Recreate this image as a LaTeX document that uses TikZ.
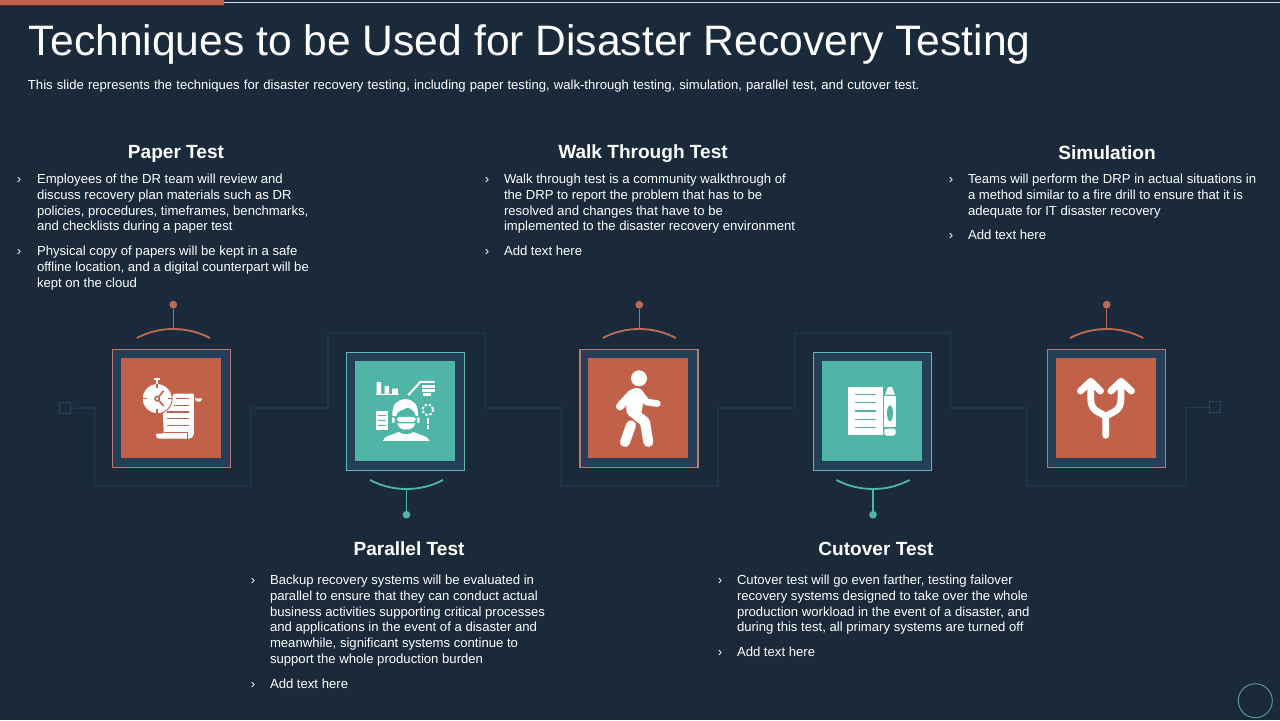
\documentclass[tikz,border=0pt]{standalone}
\usepackage{fontspec}
\setmainfont{Liberation Sans}
\newfontfamily\subfont[WordSpace=1.15]{Liberation Sans}
\usetikzlibrary{positioning,calc}
\definecolor{bgColor}{HTML}{1A2A3B}
\definecolor{wireColor}{HTML}{2A4560}
\definecolor{frameColor}{HTML}{263F58}
\definecolor{redColor}{HTML}{C1614A}
\definecolor{redEdge}{HTML}{B87A70}
\definecolor{redArc}{HTML}{BB6A55}
\definecolor{tealColor}{HTML}{4FB5A6}
\definecolor{tealEdge}{HTML}{62B5B8}
\tikzset{
	headtext/.style={text=white,inner sep=0,outer sep=0,anchor=base,font=\fontsize{10.85}{13}\selectfont\bfseries},
	bodytext/.style={text=white,inner sep=0,outer sep=0,anchor=north west,yshift=-0.4pt,font=\fontsize{7.47}{9.07}\selectfont},
	bulmark/.style={text=white,inner sep=0,outer sep=0,yshift=-0.5pt,font=\fontsize{7.5}{9.07}\selectfont},
	wire/.style={draw=wireColor,line width=0.5pt},
	endsq/.style={draw=wireColor,line width=0.5pt,minimum size=6.4pt,inner sep=0},
	framebox/.style={rectangle,fill=frameColor,draw=#1,line width=0.8pt,minimum size=2.36cm,inner sep=0,outer sep=0},
	iconbox/.style={rectangle,fill=#1,minimum size=2cm,inner sep=0,outer sep=0},
	tipdot/.style={circle,fill=#1,minimum size=4.4pt,inner sep=0,outer sep=0},
	tipline/.style={draw=#1,line width=0.7pt},
	tiparc/.style={draw=#1,line width=1.05pt},
	clockscroll/.pic={
		\fill[white,rounded corners=0.6pt] (2.3,-14.7) -- (22.3,-14.7) -- (22.3,27) -- (19,30.3) -- (-14.3,30.3) -- (-16,25.3) -- (-7.7,25.3) -- (-8.7,3.7) -- cycle;
		\fill[white] (23.4,-10) arc (180:0:3.6) -- cycle;
		\draw[redColor,line width=0.6pt] (-7.7,24) -- (15.7,24) -- (15.7,30.3);
		\foreach \yy/\xx in {-9.7/4,-3/2,3.7/-5,10.3/-5,17/-5}
			\draw[redColor,line width=0.9pt] (\xx,\yy) -- (17.3,\yy);
		\fill[white,draw=redColor,line width=0.5pt] (-14.3,-9.7) circle (15);
		\fill[white] (-17.7,-30.5) rectangle (-11.5,-28.3);
		\fill[white] (-15.3,-29) rectangle (-13.3,-24);
		\draw[redColor,line width=0.9pt] (-14.3,-24.5) -- (-14.3,-20) (-14.3,0.6) -- (-14.3,5) (-29.3,-9.7) -- (-24.6,-9.7) (-4,-9.7) -- (0.7,-9.7);
		\draw[redColor,line width=0.9pt] (-14.3,-9.7) circle (2.2) (-12.8,-11.4) -- (-8,-17.5) (-12.8,-8) -- (-8,-2.5);
	},
	maskperson/.pic={
		\fill[white] (-29,-29.7) rectangle (-24.3,-17.3) (-21,-25.7) rectangle (-16.7,-17.3) (-13.3,-23) rectangle (-7.7,-17.3);
		\fill[white] (-29.3,-18) rectangle (-6.7,-16.6);
		\draw[white,line width=1.2pt] (2.7,-16.3) -- (15,-29.7) -- (29,-29.7);
		\draw[white,line width=1.3pt] (16.7,-25) -- (29,-25) (16.7,-21) -- (29,-21) (17.3,-17) -- (25,-17);
		\fill[white] (-30,-0.7) rectangle (-17.3,18.3);
		\foreach \yy in {3.7,8.7,13.7}
			\draw[tealColor,line width=0.8pt] (-27.5,\yy) -- (-19.8,\yy);
		\fill[white] (-13,4.5) .. controls (-14,-7) and (-8,-12.3) .. (0,-12.3) .. controls (8,-12.3) and (13,-7) .. (12.5,4.5) -- (10.5,4.5) .. controls (9,0) and (6,-3) .. (2,-4) .. controls (-2,-1) and (-8,-2) .. (-9.5,4.5) -- cycle;
		\fill[white] (-13.5,6) rectangle (-11,11) (11.5,6) rectangle (14,11);
		\fill[white,rounded corners=1pt] (-8.3,5.3) rectangle (10,10.3);
		\fill[white] (-8.3,11.8) -- (10,11.8) .. controls (8,17.5) and (4,18) .. (0.8,18) .. controls (-3,18) and (-6.5,17.5) .. (-8.3,11.8) -- cycle;
		\fill[white] (-22.7,29.3) .. controls (-21,24) and (-13,23.5) .. (-7,20.5) .. controls (-3,23.5) and (4,23.5) .. (8,20.5) .. controls (14,23.5) and (22,24) .. (24,29.3) -- cycle;
		\draw[white,line width=1.2pt,dash pattern=on 1.3pt off 1.2pt] (22.3,-1.7) circle (5.5);
		\draw[white,line width=1.1pt,dash pattern=on 3.5pt off 0.9pt] (22.3,6) -- (22.3,17);
	},
	walkman/.pic={
		\fill[white] (0,-30) circle (8);
		\draw[white,line width=4.6pt,line cap=round,line join=round] (-7.3,-14.7) -- (-19,-2);
		\draw[white,line width=3.8pt,line cap=round,line join=round] (1,-14.7) -- (7.7,-6.3) -- (18.3,-4.7);
		\draw[white,line width=9pt,line cap=round,line join=round] (-2.5,-12.5) -- (-5,1);
		\draw[white,line width=5.7pt,line cap=round,line join=round] (-6.3,3.7) -- (6,13.7) -- (9.3,33.7);
		\draw[white,line width=5.7pt,line cap=round,line join=round] (-8,17) -- (-14,33.7);
	},
	notecrayon/.pic={
		\fill[white] (-24.5,-24.5) rectangle (10.2,23.5);
		\foreach \yy in {-17.2,-8.8,-0.5,7.8,16.2}
			\draw[tealColor,line width=0.9pt] (-17.5,\yy) -- (3.2,\yy);
		\fill[white] (12.5,-16.8) -- (15.5,-24.5) -- (19.5,-24.5) -- (22.5,-16.8) -- cycle;
		\fill[white] (11.8,-15.6) -- (23.2,-15.6) -- (23.2,15.5) -- (11.8,15.5) -- cycle;
		\fill[white,rounded corners=1pt] (11.8,17) rectangle (23.2,24);
		\fill[tealColor] (17.5,1.8) ellipse (3 and 8);
	},
	forkarrow/.pic={
		\draw[white,line width=3.9pt,line cap=round,line join=round] (-0.8,27) -- (-0.8,8) .. controls (-8,3) and (-15.8,3) .. (-15.8,-10) -- (-15.8,-25);
		\draw[white,line width=3.9pt,line cap=round,line join=round] (-0.8,8) .. controls (7,3) and (14.5,3) .. (14.5,-10) -- (14.5,-25);
		\draw[white,line width=3.9pt,line cap=round,line join=round] (-26,-17.3) -- (-15.8,-27) -- (-6,-17.3);
		\draw[white,line width=3.9pt,line cap=round,line join=round] (4.4,-17.3) -- (14.5,-27) -- (25,-17.3);
	}
}
\newcommand{\lines}[1]{\begin{tabular}{@{}l@{}}#1\end{tabular}}

\begin{document}
\begin{tikzpicture}[x=0.02cm,y=-0.02cm]
	\fill[bgColor] (0,0) rectangle (1280,720);
	\useasboundingbox (0,0) rectangle (1280,720);
	\fill[redColor] (0,0) rectangle (224,4.6);
	\fill[redColor!45!black] (0,4.6) rectangle (224,5.6);
	\draw[white!85!bgColor,line width=0.5pt] (224,2.2) -- (1280,2.2);
	\node[text=white,inner sep=0,outer sep=0,anchor=base west,font=\fontsize{24.25}{30}\selectfont] (title) at (29,55.5) {Techniques to be Used for Disaster Recovery Testing};
	\node[text=white,inner sep=0,outer sep=0,anchor=base west,font=\subfont\fontsize{7.45}{9.07}\selectfont] (subtitle) at (28,89.3) {This slide represents the techniques for disaster recovery testing, including paper testing, walk-through testing, simulation, parallel test, and cutover test.};
	% wire behind the boxes
	\node[endsq] (sqL) at (65,408.3) {};
	\node[endsq] (sqR) at (1215,407.3) {};
	\draw[wire] (sqL) -- (95,408) -- (95,486) -- (251,486) -- (251,408) -- (328,408) -- (328,333) -- (485,333) -- (485,408) -- (561,408) -- (561,486) -- (718,486) -- (718,408) -- (795,408) -- (795,333) -- (951,333) -- (951,408) -- (1027,408) -- (1027,486) -- (1186,486) -- (1186,407.3) -- (sqR);
	% boxes
	\foreach \nm/\xx/\yy/\edgec/\fillc/\ic in {A/171.5/408.3/redEdge/redColor/clockscroll,B/405.5/411.5/tealEdge/tealColor/maskperson,C/639/408.3/redEdge/redColor/walkman,D/872.5/411.5/tealEdge/tealColor/notecrayon,E/1106.5/408.3/redEdge/redColor/forkarrow}{
		\node[framebox=\edgec] (frame\nm) at (\xx,\yy) {};
		\node[iconbox=\fillc] (box\nm) at ($(frame\nm)+(-0.6,-0.4)$) {};
		\pic at (frame\nm) {\ic};
	}
	% arcs over and under the boxes
	\foreach \nm/\xx in {A/173.3,C/639.3,E/1106.7}{
		\node[tipdot=redArc] (dot\nm) at (\xx,304.7) {};
		\coordinate (mid\nm) at (\xx,329);
		\draw[tipline=redArc] (dot\nm) -- (mid\nm);
		\draw[tiparc=redArc] ($(mid\nm)+(-36.5,9)$) .. controls ($(mid\nm)+(-14,-3)$) and ($(mid\nm)+(14,-3)$) .. ($(mid\nm)+(36.5,9)$);
	}
	\foreach \nm/\xx in {B/406.5,D/873}{
		\node[tipdot=tealColor] (dot\nm) at (\xx,514.7) {};
		\coordinate (mid\nm) at (\xx,489);
		\draw[tipline=tealColor] (dot\nm) -- (mid\nm);
		\draw[tiparc=tealColor] ($(mid\nm)+(-36.5,-9)$) .. controls ($(mid\nm)+(-14,3)$) and ($(mid\nm)+(14,3)$) .. ($(mid\nm)+(36.5,-9)$);
	}
	% headings
	\node[headtext] (headA) at (176,158) {Paper Test};
	\node[headtext] (headC) at (643,158) {Walk Through Test};
	\node[headtext] (headE) at (1107,159) {Simulation};
	\node[headtext] (headB) at (409,555) {Parallel Test};
	\node[headtext] (headD) at (876,555) {Cutover Test};
	% bullets
	\foreach \xx/\yy in {19/179.5,19/251.5,487/179.5,487/251.5,951/179.5,951/235.5,253/580.5,253/684.5,720/580.5,720/652.5}
		\node[bulmark] at (\xx,\yy) {›};
	% texts
	\node[bodytext] (textA1) at (37,171.3) {\lines{Employees of the DR team will review and\\discuss recovery plan materials such as DR\\policies, procedures, timeframes, benchmarks,\\and checklists during a paper test}};
	\node[bodytext] (textA2) at (37,243.3) {\lines{Physical copy of papers will be kept in a safe\\offline location, and a digital counterpart will be\\kept on the cloud}};
	\node[bodytext] (textC1) at (504,171.3) {\lines{Walk through test is a community walkthrough of\\the DRP to report the problem that has to be\\resolved and changes that have to be\\implemented to the disaster recovery environment}};
	\node[bodytext] (textC2) at (504,243.3) {\lines{Add text here}};
	\node[bodytext] (textE1) at (968,171.3) {\lines{Teams will perform the DRP in actual situations in\\a method similar to a fire drill to ensure that it is\\adequate for IT disaster recovery}};
	\node[bodytext] (textE2) at (968,227.3) {\lines{Add text here}};
	\node[bodytext] (textB1) at (270,572.3) {\lines{Backup recovery systems will be evaluated in\\parallel to ensure that they can conduct actual\\business activities supporting critical processes\\and applications in the event of a disaster and\\meanwhile, significant systems continue to\\support the whole production burden}};
	\node[bodytext] (textB2) at (270,676.3) {\lines{Add text here}};
	\node[bodytext] (textD1) at (737,572.3) {\lines{Cutover test will go even farther, testing failover\\recovery systems designed to take over the whole\\production workload in the event of a disaster, and\\during this test, all primary systems are turned off}};
	\node[bodytext] (textD2) at (737,644.3) {\lines{Add text here}};
	\node[draw=tealEdge!80!bgColor,circle,line width=0.55pt,minimum size=0.68cm,inner sep=0] (cornerC) at (1255.3,700.7) {};
\end{tikzpicture}
\end{document}
